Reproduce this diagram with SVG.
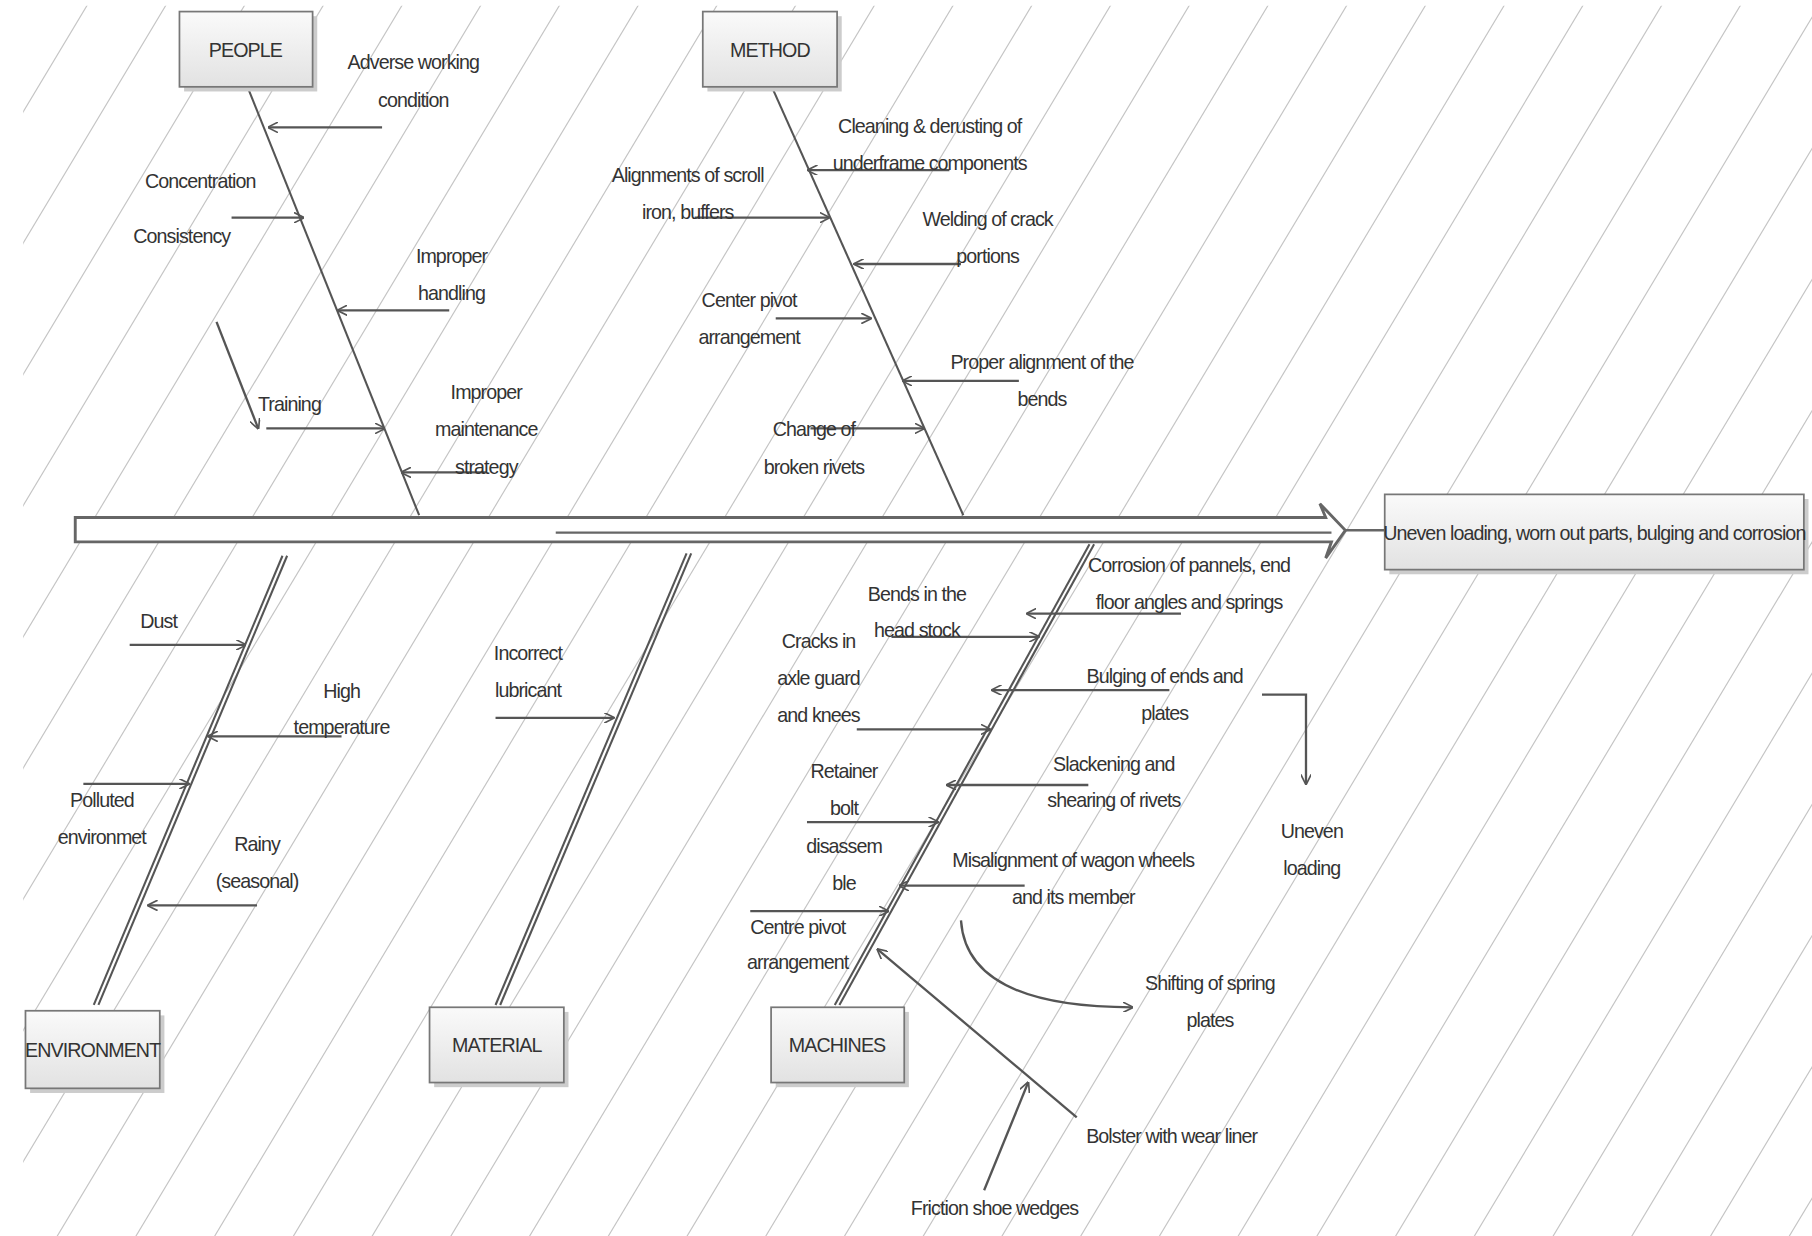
<svg xmlns="http://www.w3.org/2000/svg" width="1812" height="1236" viewBox="0 0 1812 1236">
<defs>
<marker id="ah" viewBox="0 0 10 10" refX="9" refY="5" markerWidth="9" markerHeight="9" orient="auto" markerUnits="userSpaceOnUse"><path d="M0,0 L10,5 L0,10" fill="none" stroke="#555" stroke-width="1.6"/></marker>
<linearGradient id="bg" x1="0" y1="0" x2="0" y2="1"><stop offset="0" stop-color="#fafafa"/><stop offset="1" stop-color="#e2e2e2"/></linearGradient>
<clipPath id="cl"><rect x="20" y="5" width="1545" height="1065"/></clipPath>
<pattern id="hatch" patternUnits="userSpaceOnUse" width="68" height="1070" x="0" y="0"><line x1="0" y1="1070" x2="642" y2="0" stroke="#bbb" stroke-width="1"/></pattern>
</defs>
<style>
text{font-family:"Liberation Sans",Arial,sans-serif;font-size:17px;fill:#333;text-anchor:middle;letter-spacing:-0.8px}
.bx rect{fill:url(#bg);stroke:#777;stroke-width:1.5}
.sh{fill:#ccc}
.ar line,.ar path,.ar polyline{stroke:#555;stroke-width:2;fill:none;marker-end:url(#ah)}
.bone{stroke:#555;stroke-width:1.8;fill:none}
.bg line{stroke:#c4c4c4;stroke-width:1}
</style>
<rect width="1812" height="1236" fill="#fff"/>
<g transform="scale(1.1578)">
<g class="bg" clip-path="url(#cl)" id="background">
<line x1="-700" y1="1070" x2="-58" y2="0"/><line x1="-632" y1="1070" x2="10" y2="0"/><line x1="-564" y1="1070" x2="78" y2="0"/><line x1="-496" y1="1070" x2="146" y2="0"/><line x1="-428" y1="1070" x2="214" y2="0"/><line x1="-360" y1="1070" x2="282" y2="0"/><line x1="-292" y1="1070" x2="350" y2="0"/><line x1="-224" y1="1070" x2="418" y2="0"/><line x1="-156" y1="1070" x2="486" y2="0"/><line x1="-88" y1="1070" x2="554" y2="0"/><line x1="-20" y1="1070" x2="622" y2="0"/><line x1="48" y1="1070" x2="690" y2="0"/><line x1="116" y1="1070" x2="758" y2="0"/><line x1="184" y1="1070" x2="826" y2="0"/><line x1="252" y1="1070" x2="894" y2="0"/><line x1="320" y1="1070" x2="962" y2="0"/><line x1="388" y1="1070" x2="1030" y2="0"/><line x1="456" y1="1070" x2="1098" y2="0"/><line x1="524" y1="1070" x2="1166" y2="0"/><line x1="592" y1="1070" x2="1234" y2="0"/><line x1="660" y1="1070" x2="1302" y2="0"/><line x1="728" y1="1070" x2="1370" y2="0"/><line x1="796" y1="1070" x2="1438" y2="0"/><line x1="864" y1="1070" x2="1506" y2="0"/><line x1="932" y1="1070" x2="1574" y2="0"/><line x1="1000" y1="1070" x2="1642" y2="0"/><line x1="1068" y1="1070" x2="1710" y2="0"/><line x1="1136" y1="1070" x2="1778" y2="0"/><line x1="1204" y1="1070" x2="1846" y2="0"/><line x1="1272" y1="1070" x2="1914" y2="0"/><line x1="1340" y1="1070" x2="1982" y2="0"/><line x1="1408" y1="1070" x2="2050" y2="0"/><line x1="1476" y1="1070" x2="2118" y2="0"/><line x1="1544" y1="1070" x2="2186" y2="0"/>
</g>
<g id="connectors">
<path d="M65,447 L1145,447 L1140,435 L1162,458 L1145,482 L1150,468 L65,468 Z" fill="#fff" stroke="#666" stroke-width="2.5"/>
<line x1="480" y1="460" x2="1150" y2="460" stroke="#666" stroke-width="2"/>
<line x1="1162" y1="458" x2="1196" y2="458" stroke="#666" stroke-width="2"/>
<line class="bone" x1="215" y1="78" x2="362" y2="445"/>
<line class="bone" x1="668" y1="78" x2="832" y2="445"/>
<line class="bone" x1="248" y1="480" x2="85" y2="868"/><line class="bone" x1="244" y1="480" x2="81" y2="868"/>
<line class="bone" x1="597" y1="478" x2="432" y2="868"/><line class="bone" x1="593" y1="478" x2="428" y2="868"/>
<line class="bone" x1="945" y1="470" x2="725" y2="868"/><line class="bone" x1="941" y1="470" x2="721" y2="868"/>
<g class="ar">
<line x1="330" y1="110" x2="232" y2="110"/><line x1="200" y1="188" x2="262" y2="188"/><line x1="388" y1="268" x2="292" y2="268"/>
<line x1="187" y1="278" x2="223" y2="370"/><line x1="230" y1="370" x2="332" y2="370"/><line x1="420" y1="408" x2="347" y2="408"/>
<line x1="820" y1="147" x2="698" y2="147"/><line x1="600" y1="188" x2="716" y2="188"/><line x1="830" y1="228" x2="738" y2="228"/>
<line x1="670" y1="275" x2="752" y2="275"/><line x1="880" y1="329" x2="780" y2="329"/><line x1="700" y1="370" x2="798" y2="370"/>
<line x1="112" y1="557" x2="212" y2="557"/><line x1="295" y1="636" x2="180" y2="636"/><line x1="72" y1="677" x2="163" y2="677"/><line x1="222" y1="782" x2="128" y2="782"/>
<line x1="428" y1="620" x2="530" y2="620"/>
<line x1="1020" y1="530" x2="887" y2="530"/><line x1="770" y1="550" x2="897" y2="550"/><line x1="740" y1="630" x2="855" y2="630"/>
<line x1="1010" y1="596" x2="857" y2="596"/><polyline points="1090,600 1128,600 1128,677"/><line x1="940" y1="678" x2="818" y2="678"/>
<line x1="697" y1="710" x2="810" y2="710"/><line x1="885" y1="765" x2="777" y2="765"/><line x1="648" y1="787" x2="767" y2="787"/>
<path d="M830,795 Q835,870 978,870"/><line x1="930" y1="965" x2="758" y2="820"/><line x1="850" y1="1028" x2="888" y2="935"/>
</g>
</g>
<g id="people" class="bx"><rect x="159" y="14" width="115" height="65" class="sh" style="fill:#ccc;stroke:none"/><rect x="155" y="10" width="115" height="65"/><text x="212" y="49">PEOPLE</text></g>
<g id="method" class="bx"><rect x="611" y="14" width="116" height="65" style="fill:#ccc;stroke:none"/><rect x="607" y="10" width="116" height="65"/><text x="665" y="49">METHOD</text></g>
<g id="environment" class="bx"><rect x="26" y="877" width="116" height="67" style="fill:#ccc;stroke:none"/><rect x="22" y="873" width="116" height="67"/><text x="80" y="913">ENVIRONMENT</text></g>
<g id="material" class="bx"><rect x="375" y="874" width="116" height="65" style="fill:#ccc;stroke:none"/><rect x="371" y="870" width="116" height="65"/><text x="429" y="909">MATERIAL</text></g>
<g id="machines" class="bx"><rect x="670" y="874" width="115" height="65" style="fill:#ccc;stroke:none"/><rect x="666" y="870" width="115" height="65"/><text x="723" y="909">MACHINES</text></g>
<g id="effect" class="bx"><rect x="1200" y="431" width="362" height="65" style="fill:#ccc;stroke:none"/><rect x="1196" y="427" width="362" height="65"/><text x="1377" y="466">Uneven loading, worn out parts, bulging and corrosion</text></g>
<g id="labels">
<text x="357" y="60">Adverse working</text><text x="357" y="92">condition</text>
<text x="173" y="162">Concentration</text><text x="157" y="210">Consistency</text>
<text x="390" y="227">Improper</text><text x="390" y="259">handling</text>
<text x="250" y="355">Training</text>
<text x="420" y="345">Improper</text><text x="420" y="377">maintenance</text><text x="420" y="409">strategy</text>
<text x="803" y="115">Cleaning &amp; derusting of</text><text x="803" y="147">underframe components</text>
<text x="594" y="157">Alignments of scroll</text><text x="594" y="189">iron, buffers</text>
<text x="853" y="195">Welding of crack</text><text x="853" y="227">portions</text>
<text x="647" y="265">Center pivot</text><text x="647" y="297">arrangement</text>
<text x="900" y="319">Proper alignment of the</text><text x="900" y="351">bends</text>
<text x="703" y="377">Change of</text><text x="703" y="409">broken rivets</text>
<text x="137" y="542">Dust</text>
<text x="295" y="603">High</text><text x="295" y="634">temperature</text>
<text x="88" y="697">Polluted</text><text x="88" y="729">environmet</text>
<text x="222" y="735">Rainy</text><text x="222" y="767">(seasonal)</text>
<text x="456" y="570">Incorrect</text><text x="456" y="602">lubricant</text>
<text x="1027" y="494">Corrosion of pannels, end</text><text x="1027" y="526">floor angles and springs</text>
<text x="792" y="519">Bends in the</text><text x="792" y="550">head stock</text>
<text x="707" y="560">Cracks in</text><text x="707" y="592">axle guard</text><text x="707" y="624">and knees</text>
<text x="1006" y="590">Bulging of ends and</text><text x="1006" y="622">plates</text>
<text x="1133" y="724">Uneven</text><text x="1133" y="756">loading</text>
<text x="962" y="666">Slackening and</text><text x="962" y="697">shearing of rivets</text>
<text x="729" y="672">Retainer</text><text x="729" y="704">bolt</text><text x="729" y="737">disassem</text><text x="729" y="769">ble</text>
<text x="927" y="749">Misalignment of wagon wheels</text><text x="927" y="781">and its member</text>
<text x="689" y="807">Centre pivot</text><text x="689" y="837">arrangement</text>
<text x="1045" y="855">Shifting of spring</text><text x="1045" y="887">plates</text>
<text x="1012" y="987">Bolster with wear liner</text>
<text x="859" y="1049">Friction shoe wedges</text>
</g>
</g>
</svg>
